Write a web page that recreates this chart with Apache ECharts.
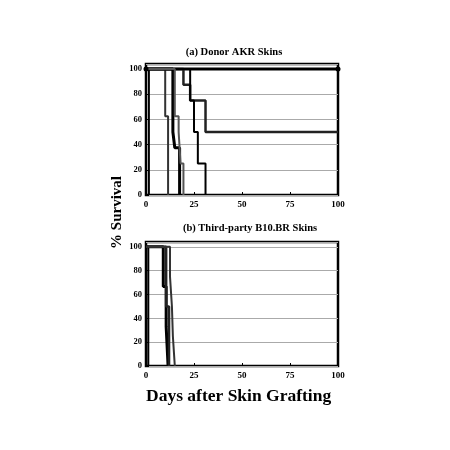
<!DOCTYPE html>
<html><head><meta charset="utf-8">
<script src="https://cdn.jsdelivr.net/npm/echarts@6/dist/echarts.min.js"></script>
<style>html,body{margin:0;padding:0;background:#fff}#c{width:450px;height:450px}</style>
</head><body><div id="c"></div>
<script>
var xTicks = [0, 25, 50, 75, 100];
var yTicks = [0, 20, 40, 60, 80, 100];
var titleA = '(a) Donor AKR Skins';
var titleB = '(b) Third-party B10.BR Skins';
// top panel curves: [day, % survival] step points
var aControl = [[0,100],[100,100]];
var aEarly = [[0,100],[1.5,0]];
var aB = [[0,100],[19.5,87.5],[23,75],[31,50],[100,50]];
var aC = [[0,100],[23,75],[25,50],[27,25],[31,0]];
var aD = [[0,100],[10,62.5],[11.5,0]];
var aE = [[0,100],[14,50],[15,37.5],[17.5,0]];
var aF = [[0,100],[15,62.5],[17,50],[18,25],[19.5,0]];
// bottom panel curves
var bEarly = [[0,100],[1.2,0]];
var bG = [[0,100],[9,66.7],[10.5,33],[11.5,0]];
var bH = [[0,100],[10.5,50],[12,0]];
var bI = [[0,100],[12.5,75],[13.5,50],[14,25],[15,0]];

var serif = '"Liberation Serif","DejaVu Serif",serif';
function xAx(i){return {gridIndex:i,type:'value',min:0,max:100,interval:25,
  axisLine:{show:false},axisTick:{show:true,inside:true,length:3,lineStyle:{color:'#000'}},
  axisLabel:{fontFamily:serif,fontWeight:'bold',fontSize:9,color:'#000',margin:5},
  splitLine:{show:false}};}
function yAx(i){return {gridIndex:i,type:'value',min:0,max:104,interval:20,
  axisLine:{show:false},axisTick:{show:true,inside:true,length:3,lineStyle:{color:'#000'}},
  axisLabel:{fontFamily:serif,fontWeight:'bold',fontSize:8.5,color:'#000',margin:4,showMaxLabel:false},
  splitLine:{show:true,lineStyle:{color:'#aaa',width:1}}};}
function ser(d,i,w,col,sym){return {type:'line',step:'end',xAxisIndex:i,yAxisIndex:i,data:d,
  showSymbol:!!sym,symbol:'circle',symbolSize:5,itemStyle:{color:col},
  lineStyle:{color:col,width:w},animation:false,z:3};}

var chart = echarts.init(document.getElementById('c'));
chart.setOption({
  backgroundColor:'#fff',
  title:[
    {text:titleA,left:229,top:42,textAlign:'center',textStyle:{fontFamily:serif,fontWeight:'bold',fontSize:10.5,color:'#000'}},
    {text:titleB,left:245,top:218,textAlign:'center',textStyle:{fontFamily:serif,fontWeight:'bold',fontSize:10.5,color:'#000'}}
  ],
  grid:[
    {left:146,top:64,width:192,height:131,show:true,borderColor:'#000',borderWidth:2.5,backgroundColor:'transparent'},
    {left:146,top:242,width:192,height:124,show:true,borderColor:'#000',borderWidth:2.5,backgroundColor:'transparent'}
  ],
  xAxis:[xAx(0),xAx(1)],
  yAxis:[yAx(0),yAx(1)],
  graphic:[
    {type:'text',left:110,top:176,rotation:Math.PI/2,style:{text:'% Survival',font:'bold 15px '+serif,fill:'#000'}},
    {type:'text',left:146,top:387,style:{text:'Days after Skin Grafting',font:'bold 17.5px '+serif,fill:'#000'}}
  ],
  series:[
    ser(aControl,0,3,'#000',true),
    ser(aEarly,0,2,'#000'),
    ser(aB,0,2.5,'#222'),
    ser(aC,0,2,'#000'),
    ser(aD,0,2,'#333'),
    ser(aE,0,3,'#000'),
    ser(aF,0,2,'#555'),
    ser(bEarly,1,2,'#000'),
    ser(bG,1,3,'#000'),
    ser(bH,1,2.5,'#222'),
    ser(bI,1,2,'#333')
  ]
});
</script></body></html>
